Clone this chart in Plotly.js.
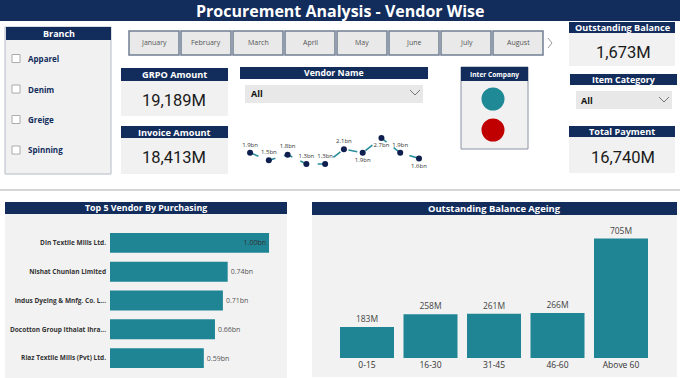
<!DOCTYPE html>
<html><head><meta charset="utf-8">
<script src="https://cdn.plot.ly/plotly-3.0.1.min.js"></script>
<style>html,body{margin:0;padding:0;background:#fff;}#chart{width:680px;height:378px;}</style>
</head><body><div id="chart"></div>
<script>
// ---- data ----
const monthButtons = ['January','February','March','April','May','June','July','August'];
const branches = ['Apparel','Denim','Greige','Spinning'];
const trendMonths = ['Jan','Feb','Mar','Apr','May','Jun','Jul','Aug','Sep','Oct'];
const trendValues = [1.9,1.5,1.8,1.3,1.3,2.1,1.9,2.7,1.9,1.6];
const trendLabelPos = ['top center','top center','top center','top center','top center','top center','bottom center','bottom center','top center','bottom center'];
const vendors = ['Din Textile Mills Ltd.','Nishat Chunian Limited','Indus Dyeing & Mnfg. Co. L...','Docotton Group Ithalat Ihra...','Riaz Textile Mills (Pvt) Ltd.'];
const purchases = [1.00,0.74,0.71,0.66,0.59];
const vendorLabelPos = ['inside','outside','outside','outside','outside'];
const ageBuckets = ['0-15','16-30','31-45','46-60','Above 60'];
const ageBalances = [183,258,261,266,705];
const kpiGrpo = '19,189M', kpiInvoice = '18,413M', kpiOutstanding = '1,673M', kpiPayment = '16,740M';

// ---- helpers ----
const W=680,H=378;
const NAVY='#122C5C', TEAL='#1F8494', HF='Open Sans', NF='Roboto';
const px=x=>x/W, py=y=>1-y/H;
const shapes=[], ann=[];
function rect(x0,y0,x1,y1,fill,line,lw){shapes.push({type:'rect',xref:'paper',yref:'paper',x0:px(x0),x1:px(x1),y0:py(y1),y1:py(y0),fillcolor:fill,line:{color:line||fill,width:line?(lw||1):0},layer:'below'});}
function circ(cx,cy,r,fill){shapes.push({type:'circle',xref:'paper',yref:'paper',x0:px(cx-r),x1:px(cx+r),y0:py(cy+r),y1:py(cy-r),fillcolor:fill,line:{width:0},layer:'below'});}
function poly(pts,color,w){let d='M'+pts.map(p=>px(p[0])+','+py(p[1])).join(' L');shapes.push({type:'path',xref:'paper',yref:'paper',path:d,line:{color:color,width:w||1},layer:'below'});}
function txt(x,y,t,size,color,weight,anchor,family){ann.push({xref:'paper',yref:'paper',x:px(x),y:py(y),text:t,showarrow:false,xanchor:anchor||'center',yanchor:'middle',font:{family:family||HF,size:size,color:color,weight:weight||'normal'}});}
function header(x0,y0,x1,y1,t,size){rect(x0,y0,x1,y1,NAVY);txt((x0+x1)/2,(y0+y1)/2,t,size||9,'#fff','bold');}

// title bar
rect(0,0,680,21,NAVY);
txt(340,11,'Procurement Analysis - Vendor Wise',16,'#fff','bold');

// branch slicer
rect(5,27,111,174,'#F1F1F1','#B4BAC6',1);
header(6,27,111,40,'Branch',9);
branches.forEach((b,i)=>{const cy=[58.5,89,119.5,150][i];rect(12,cy-4,20,cy+4,'#fff','#9A9A9A',0.8);txt(26,cy,b,8,NAVY,'bold','left');});

// month buttons
monthButtons.forEach((m,i)=>{const x0=129+i*52;rect(x0,31,x0+50,55,'#E9E9E9','#6F7D92',1.5);txt(x0+25,43,m,7,'#555','normal');});
poly([[548,38],[552,43],[548,48]],'#999',1);

// KPI cards
header(121,68,228,81,'GRPO Amount',9.2); rect(121,81,228,116,'#F1F1F1'); txt(174.5,100.5,kpiGrpo,16.5,'#1a1a1a','normal','center',NF);
header(121,126,228,138,'Invoice Amount',9.2); rect(121,138,228,174,'#F1F1F1'); txt(174.5,157.5,kpiInvoice,16.5,'#1a1a1a','normal','center',NF);
header(569,22,675,33,'Outstanding Balance',9.1); rect(569,33,675,66,'#F1F1F1'); txt(623,52,kpiOutstanding,16.5,'#1a1a1a','normal','center',NF);
header(569,126,675,137,'Total Payment',9.1); rect(569,137,675,173,'#F1F1F1'); txt(623,158,kpiPayment,16.5,'#1a1a1a','normal','center',NF);

// vendor name dropdown
header(240,67,428,79,'Vendor Name',8.7);
rect(245,85,423,103,'#E8E8E8'); txt(249,94,'All',9,'#111','bold','left');
poly([[410,90],[415,95],[420,90]],'#777',1);

// item category dropdown
header(570,74,677,85,'Item Category',8.9);
rect(576,91,672,109,'#E8E8E8'); txt(579,100.5,'All',9,'#111','bold','left');
poly([[659,97],[664,102],[669,97]],'#777',1);

// inter company
rect(461,67,528,149,'#F1F1F1','#8A93A3',1);
header(461,67,528,81,'Inter Company',6.6);
circ(493,99,11.5,'#1F8A96'); circ(493,130,11.5,'#C00000');

// separator
shapes.push({type:'line',xref:'paper',yref:'paper',x0:0,x1:1,y0:py(190),y1:py(190),line:{color:'#C9C9C9',width:1.5},layer:'below'});

// bottom panels
rect(5,214,287,378,'#F2F2F2'); header(5,202,287,214,'Top 5 Vendor By Purchasing',8.85);
rect(312,215,677,377,'#F2F2F2'); header(312,202,677,215,'Outstanding Balance Ageing',9.4);

// ---- traces ----
const traces=[
 {type:'scatter',mode:'lines+markers+text',x:trendMonths,y:trendValues,xaxis:'x',yaxis:'y',
  line:{color:'#2A8E9C',width:1.6,dash:'dash'},marker:{color:'#0E1E4F',size:6},
  texttemplate:'%{y:.1f}bn',textposition:trendLabelPos,textfont:{family:HF,size:6,color:'#333'},cliponaxis:false,hoverinfo:'skip'},
 {type:'bar',orientation:'h',x:purchases,y:vendors,xaxis:'x2',yaxis:'y2',marker:{color:TEAL},width:0.69,
  texttemplate:'%{x:.2f}bn',textposition:vendorLabelPos,insidetextanchor:'end',constraintext:'none',
  insidetextfont:{family:HF,size:7,color:'#333'},outsidetextfont:{family:HF,size:7,color:'#555'},cliponaxis:false,hoverinfo:'skip'},
 {type:'bar',x:ageBuckets,y:ageBalances,xaxis:'x3',yaxis:'y3',marker:{color:TEAL},width:0.85,
  texttemplate:'%{y}M',textposition:'outside',constraintext:'none',textfont:{family:HF,size:8.5,color:'#444'},cliponaxis:false,hoverinfo:'skip'}
];

const hid={visible:false,fixedrange:true};
const layout={
 width:680,height:378,margin:{l:0,r:0,t:0,b:0},paper_bgcolor:'#fff',plot_bgcolor:'rgba(0,0,0,0)',showlegend:false,
 shapes:shapes,annotations:ann,
 xaxis:Object.assign({},hid,{anchor:'y',domain:[px(245),px(425)],range:[-0.27,9.32]}),
 yaxis:Object.assign({},hid,{anchor:'x',domain:[py(172),py(130)],range:[0.87,3.13]}),
 xaxis2:Object.assign({},hid,{anchor:'y2',domain:[px(110),px(287)],range:[0,1.113]}),
 yaxis2:{anchor:'x2',domain:[py(372.5),py(228.5)],range:[4.5,-0.5],showgrid:false,zeroline:false,showline:false,ticks:'',ticklabelstandoff:3,
   tickfont:{family:HF,size:6.5,color:'#333',weight:'bold'},fixedrange:true},
 xaxis3:{anchor:'y3',domain:[px(335.25),px(652.75)],range:[-0.5,4.5],showgrid:false,zeroline:false,showline:false,ticks:'',
   tickfont:{family:HF,size:8.5,color:'#333'},fixedrange:true},
 yaxis3:Object.assign({},hid,{anchor:'x3',domain:[py(358),py(225)],range:[0,785]})
};
Plotly.newPlot('chart',traces,layout,{staticPlot:true,displayModeBar:false});
</script></body></html>
